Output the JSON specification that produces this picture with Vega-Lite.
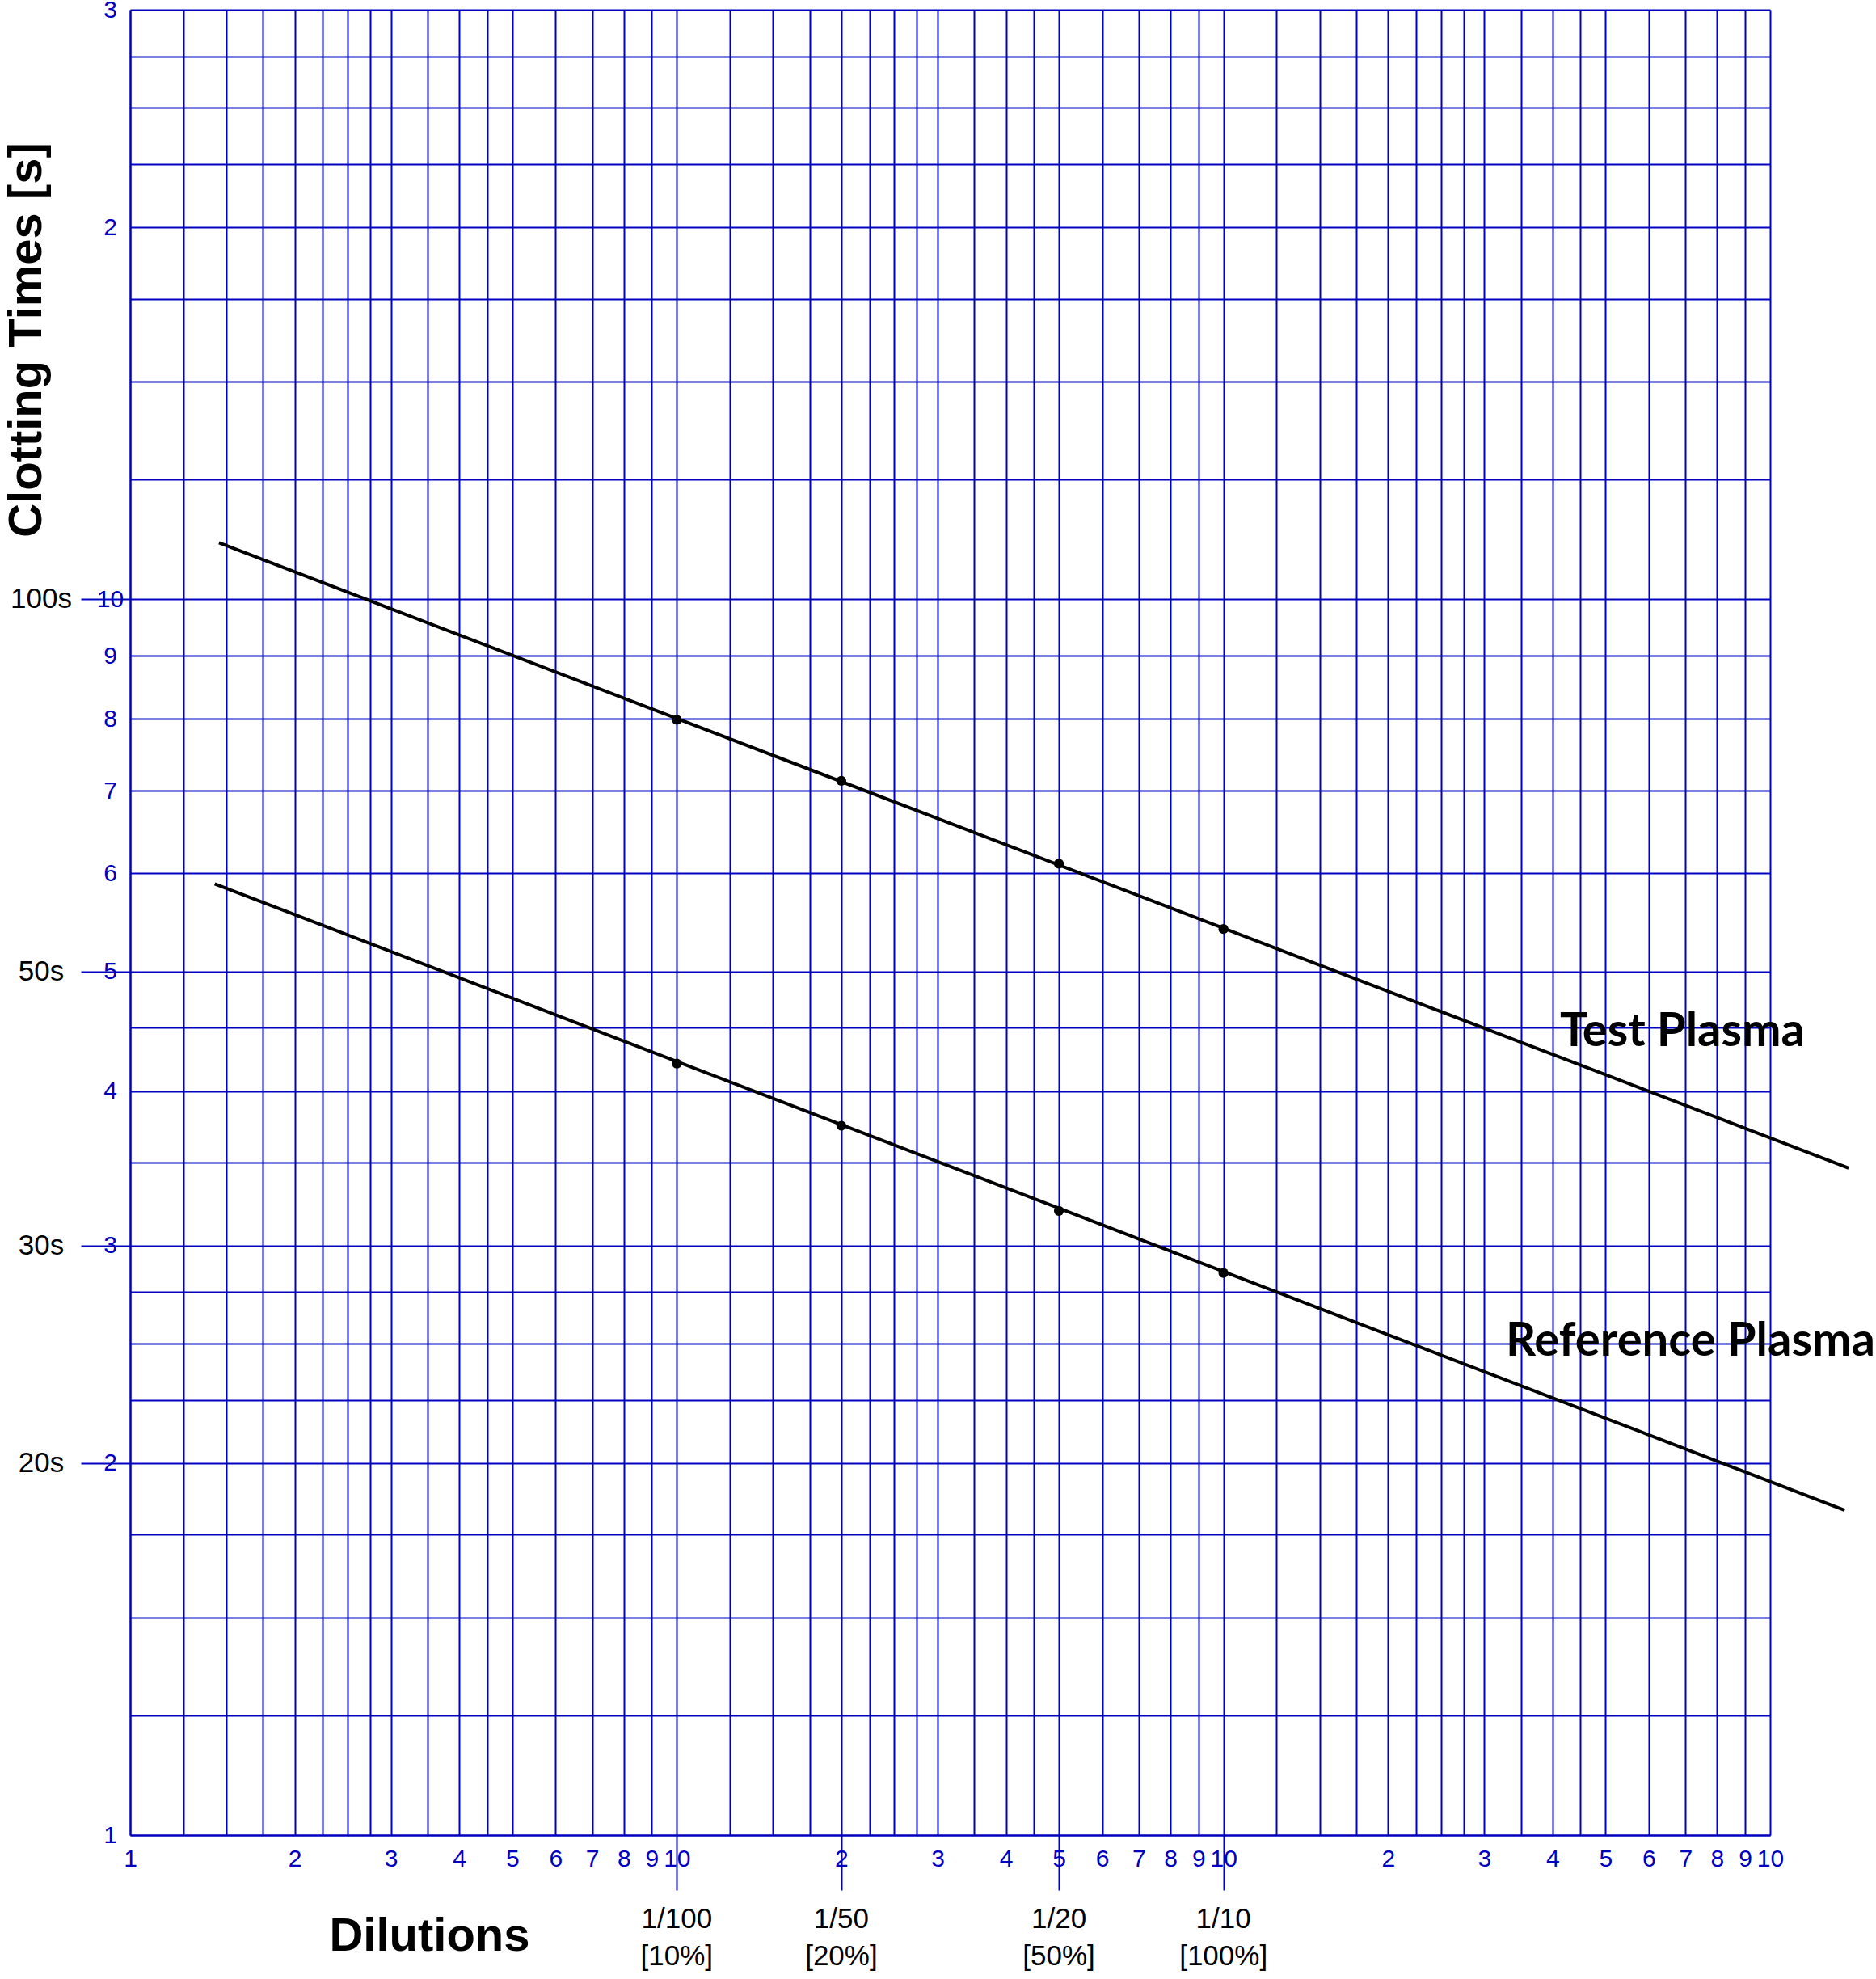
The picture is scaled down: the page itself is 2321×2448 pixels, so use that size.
{
  "$schema": "https://vega.github.io/schema/vega-lite/v6.json",
  "width": 2029,
  "height": 2258,
  "autosize": "none",
  "padding": {"left": 161, "top": 12, "right": 131, "bottom": 178},
  "background": "white",
  "config": {
    "view": {"stroke": null},
    "font": "Liberation Sans",
    "text": {"font": "Liberation Sans"},
    "axis": {"labelFont": "Liberation Sans", "titleFont": "Liberation Sans"}
  },
  "datasets": {
    "fits": [
      {"series": "Test Plasma", "x": 1.454, "y": 11.11},
      {"series": "Test Plasma", "x": 1392, "y": 3.466},
      {"series": "Reference Plasma", "x": 1.428, "y": 5.885},
      {"series": "Reference Plasma", "x": 1369, "y": 1.832}
    ],
    "measured": [
      {"series": "Test Plasma", "x": 10, "y": 7.99},
      {"series": "Test Plasma", "x": 20, "y": 7.13},
      {"series": "Test Plasma", "x": 50, "y": 6.11},
      {"series": "Test Plasma", "x": 100, "y": 5.41},
      {"series": "Reference Plasma", "x": 10, "y": 4.21},
      {"series": "Reference Plasma", "x": 20, "y": 3.75},
      {"series": "Reference Plasma", "x": 50, "y": 3.2},
      {"series": "Reference Plasma", "x": 100, "y": 2.85}
    ],
    "seconds": [
      {"x": 1, "y": 10, "label": "100s"},
      {"x": 1, "y": 5, "label": "50s"},
      {"x": 1, "y": 3, "label": "30s"},
      {"x": 1, "y": 2, "label": "20s"}
    ],
    "dilutions": [
      {"x": 10, "y": 1, "label": "1/100\n[10%]"},
      {"x": 20, "y": 1, "label": "1/50\n[20%]"},
      {"x": 50, "y": 1, "label": "1/20\n[50%]"},
      {"x": 100, "y": 1, "label": "1/10\n[100%]"}
    ],
    "names": [
      {"x": 691, "y": 4.46, "label": "Test Plasma"},
      {"x": 715, "y": 2.505, "label": "Reference Plasma"}
    ]
  },
  "encoding": {
    "x": {
      "field": "x",
      "type": "quantitative",
      "scale": {"type": "log", "domain": [1, 1000], "nice": false},
      "axis": {
        "values": [1, 1.25, 1.5, 1.75, 2, 2.25, 2.5, 2.75, 3, 3.5, 4, 4.5, 5, 6, 7, 8, 9,
                   10, 12.5, 15, 17.5, 20, 22.5, 25, 27.5, 30, 35, 40, 45, 50, 60, 70, 80, 90,
                   100, 125, 150, 175, 200, 225, 250, 275, 300, 350, 400, 450, 500, 600, 700, 800, 900, 1000],
        "grid": true,
        "gridColor": "#0000c0",
        "gridWidth": 2,
        "gridOpacity": 1,
        "domainColor": "#0000c0",
        "domainWidth": 2,
        "ticks": true,
        "tickSize": 68,
        "tickWidth": 2,
        "tickColor": {"condition": {"test": "indexof([10, 20, 50, 100], datum.value) >= 0", "value": "#0000c0"}, "value": "transparent"},
        "labelExpr": "datum.value == 1 ? '1' : (abs(datum.value / pow(10, floor(log(datum.value) / LN10 + 1e-6)) - round(datum.value / pow(10, floor(log(datum.value) / LN10 + 1e-6)))) > 1e-6 ? '' : (round(datum.value / pow(10, floor(log(datum.value) / LN10 + 1e-6))) == 1 ? '10' : '' + round(datum.value / pow(10, floor(log(datum.value) / LN10 + 1e-6)))))",
        "labelColor": "#0000c0",
        "labelFontSize": 30,
        "labelPadding": -39,
        "labelBaseline": "middle",
        "labelAlign": "center",
        "labelFlush": false,
        "labelOverlap": false,
        "labelBound": false,
        "title": "Dilutions",
        "titleX": 370,
        "titleY": 125,
        "titleAlign": "center",
        "titleBaseline": "middle",
        "titleFontSize": 58,
        "titleFontWeight": "bold",
        "titleColor": "black"
      }
    },
    "y": {
      "field": "y",
      "type": "quantitative",
      "scale": {"type": "log", "domain": [1, 30], "nice": false},
      "axis": {
        "values": [1, 1.25, 1.5, 1.75, 2, 2.25, 2.5, 2.75, 3, 3.5, 4, 4.5, 5, 6, 7, 8, 9,
                   10, 12.5, 15, 17.5, 20, 22.5, 25, 27.5, 30],
        "grid": true,
        "gridColor": "#0000c0",
        "gridWidth": 2,
        "gridOpacity": 1,
        "domainColor": "#0000c0",
        "domainWidth": 2,
        "ticks": true,
        "tickSize": 61,
        "tickWidth": 2,
        "tickColor": {"condition": {"test": "indexof([2, 3, 5, 10], datum.value) >= 0", "value": "#0000c0"}, "value": "transparent"},
        "labelExpr": "datum.value == 1 ? '1' : (abs(datum.value / pow(10, floor(log(datum.value) / LN10 + 1e-6)) - round(datum.value / pow(10, floor(log(datum.value) / LN10 + 1e-6)))) > 1e-6 ? '' : (round(datum.value / pow(10, floor(log(datum.value) / LN10 + 1e-6))) == 1 ? '10' : '' + round(datum.value / pow(10, floor(log(datum.value) / LN10 + 1e-6)))))",
        "labelColor": "#0000c0",
        "labelFontSize": 30,
        "labelPadding": -36,
        "labelAlign": "center",
        "labelBaseline": "middle",
        "labelFlush": false,
        "labelOverlap": false,
        "labelBound": false,
        "title": "Clotting Times [s]",
        "titleAngle": 270,
        "titleX": -128,
        "titleY": 408,
        "titleAlign": "center",
        "titleBaseline": "middle",
        "titleFontSize": 58,
        "titleFontWeight": "bold",
        "titleColor": "black"
      }
    }
  },
  "layer": [
    {
      "data": {"name": "fits"},
      "mark": {"type": "line", "color": "black", "strokeWidth": 4},
      "encoding": {"detail": {"field": "series", "type": "nominal"}}
    },
    {
      "data": {"name": "measured"},
      "mark": {"type": "point", "filled": true, "color": "black", "opacity": 1, "size": 150}
    },
    {
      "data": {"name": "seconds"},
      "mark": {"type": "text", "align": "center", "baseline": "middle", "fontSize": 35, "color": "black", "dx": -110},
      "encoding": {"text": {"field": "label"}}
    },
    {
      "data": {"name": "dilutions"},
      "mark": {"type": "text", "align": "center", "baseline": "top", "fontSize": 35, "lineHeight": 46, "lineBreak": "\n", "color": "black", "dy": 87},
      "encoding": {"text": {"field": "label"}}
    },
    {
      "data": {"name": "names"},
      "mark": {"type": "text", "align": "center", "baseline": "middle", "font": "Lato", "fontWeight": "bold", "fontSize": 58, "color": "black"},
      "encoding": {"text": {"field": "label"}}
    }
  ]
}
